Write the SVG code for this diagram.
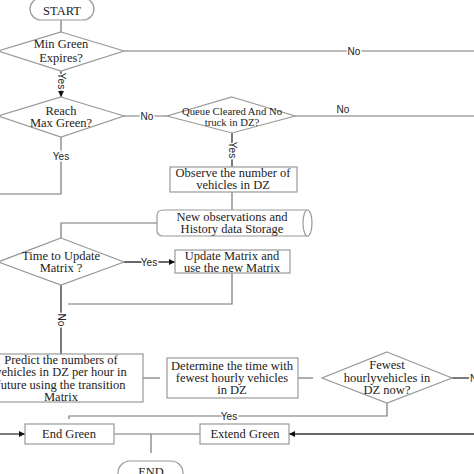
<svg xmlns="http://www.w3.org/2000/svg" width="474" height="474" viewBox="0 0 474 474">
<defs>
<style>
.shape{fill:#fff;stroke:#999;stroke-width:1.2}
.t{font-family:"Liberation Serif","Times New Roman",serif;font-size:12.5px;fill:#222;text-anchor:middle}
.ts{font-family:"Liberation Serif","Times New Roman",serif;font-size:10.7px;fill:#222;text-anchor:middle}
.lbl{font-family:"Liberation Sans",Arial,sans-serif;font-size:10px;fill:#222;text-anchor:middle}
.halo{stroke:#fff;stroke-width:3;paint-order:stroke}
.ln{fill:none;stroke:#777;stroke-width:1.2}
.dk{fill:none;stroke:#333;stroke-width:1.3}
</style>
<marker id="ah" viewBox="0 0 10 10" refX="10" refY="5" markerWidth="8" markerHeight="6" markerUnits="userSpaceOnUse" orient="auto">
<path d="M0,0 L10,5 L0,10 Z" fill="#111"/>
</marker>
</defs>
<rect width="474" height="474" fill="#fff"/>

<g id="connectors">
<path class="ln" d="M61,20 V32"/>
<path class="ln" d="M124,51 H474"/>
<path class="dk" d="M61,71 V97" marker-end="url(#ah)"/>
<path class="ln" d="M124,116 H167"/>
<path class="ln" d="M295,116 H474"/>
<path class="ln" d="M61,137 V194 H0"/>
<path class="dk" d="M232,133 V167"/>
<path class="ln" d="M232,192 V210"/>
<path class="ln" d="M157,223 H61 V238"/>
<path class="dk" d="M124,262 H175" marker-end="url(#ah)"/>
<path class="ln" d="M232,273 V304 H68"/>
<path class="dk" d="M61,285 V354"/>
<path class="ln" d="M143,378 H160"/>
<path class="ln" d="M298,378 H313"/>
<path class="dk" d="M452,378 H469"/>
<path class="ln" d="M387,403 V416 H69 V419"/>
<path class="dk" d="M0,434 H25" marker-end="url(#ah)"/>
<path class="ln" d="M114,434 H200"/>
<path class="ln" d="M151,434 V453"/>
<path class="dk" d="M474,434 H289" marker-end="url(#ah)"/>
<text class="lbl halo" x="354" y="54.5">No</text>
<text class="lbl halo" transform="translate(61,81) rotate(90)" y="3.5">Yes</text>
<text class="lbl halo" x="147" y="119.5">No</text>
<text class="lbl" x="343" y="113">No</text>
<text class="lbl halo" x="61" y="160">Yes</text>
<text class="lbl halo" transform="translate(232,150) rotate(90)" y="3.5">Yes</text>
<text class="lbl halo" x="149" y="265.5">Yes</text>
<text class="lbl halo" transform="translate(61,320) rotate(90)" y="3.5">No</text>
<text class="lbl" x="470" y="381.5" style="text-anchor:start">No</text>
<text class="lbl halo" x="229" y="419.5">Yes</text>
</g>

<g id="start">
<rect class="shape" x="30" y="-2" width="64" height="22" rx="11"/>
<text class="t" x="62" y="14.5">START</text>
</g>

<g id="min-green">
<polygon class="shape" points="61,32 124,51 61,71 -2,51"/>
<text class="t" x="61" y="48">Min Green</text>
<text class="t" x="61" y="62">Expires?</text>
</g>

<g id="max-green">
<polygon class="shape" points="61,97 124,116 61,137 -2,116"/>
<text class="t" x="61" y="115">Reach</text>
<text class="t" x="61" y="127">Max Green?</text>
</g>

<g id="queue-cleared">
<polygon class="shape" points="232,97 295,116 232,133 167,116"/>
<text class="ts" x="232" y="115">Queue Cleared And No</text>
<text class="ts" x="232" y="126">truck in DZ?</text>
</g>

<g id="observe">
<rect class="shape" x="170" y="167" width="127" height="25"/>
<text class="t" x="233" y="177">Observe the number of</text>
<text class="t" x="233" y="189">vehicles in DZ</text>
</g>

<g id="storage">
<path class="shape" d="M163,210 H307.5 A4.5,13 0 0 1 307.5,236 H163 Q157,236 157,230 V216 Q157,210 163,210 Z"/>
<path class="shape" d="M307.5,236 A4.5,13 0 0 1 307.5,210" fill="none"/>
<text class="t" x="232" y="221">New observations and</text>
<text class="t" x="232" y="233">History data Storage</text>
</g>

<g id="time-update">
<polygon class="shape" points="61,238 124,262 61,285 -2,262"/>
<text class="t" x="61" y="260">Time to Update</text>
<text class="t" x="61" y="272">Matrix ?</text>
</g>

<g id="update-matrix">
<rect class="shape" x="175" y="250" width="115" height="23"/>
<text class="t" x="232" y="260">Update Matrix and</text>
<text class="t" x="232" y="272">use the new Matrix</text>
</g>

<g id="predict">
<rect class="shape" x="-20" y="354" width="163" height="48"/>
<text class="t" x="61" y="363.5">Predict the numbers of</text>
<text class="t" x="61" y="376">vehicles in DZ per hour in</text>
<text class="t" x="61" y="388.5">future using the transition</text>
<text class="t" x="61" y="401">Matrix</text>
</g>

<g id="determine">
<rect class="shape" x="167" y="358" width="131" height="40"/>
<text class="t" x="232" y="370">Determine the time with</text>
<text class="t" x="232" y="382">fewest hourly vehicles</text>
<text class="t" x="232" y="394">in DZ</text>
</g>

<g id="fewest">
<polygon class="shape" points="387,352 452,378 387,403 322,378"/>
<text class="t" x="387" y="369">Fewest</text>
<text class="t" x="387" y="382">hourlyvehicles in</text>
<text class="t" x="387" y="394">DZ now?</text>
</g>

<g id="end-green">
<rect class="shape" x="25" y="424" width="89" height="20"/>
<text class="t" x="69" y="438">End Green</text>
</g>

<g id="extend-green">
<rect class="shape" x="200" y="424" width="89" height="20"/>
<text class="t" x="245" y="438">Extend Green</text>
</g>

<g id="end">
<rect class="shape" x="118" y="461" width="65" height="24" rx="12"/>
<text class="t" x="151" y="476">END</text>
</g>
</svg>
